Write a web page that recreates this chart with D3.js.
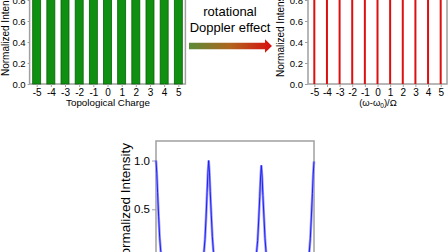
<!DOCTYPE html>
<html>
<head>
<meta charset="utf-8">
<script src="https://cdn.jsdelivr.net/npm/d3@7"></script>
<style>
  body { margin: 0; background: #fff; }
  svg { display: block; font-family: "Liberation Sans", Arial, sans-serif; }
</style>
</head>
<body>
<svg id="chart" width="448" height="252"></svg>
<script>
const charges = [-5, -4, -3, -2, -1, 0, 1, 2, 3, 4, 5];
const chargeIntensity = [1, 1, 1, 1, 1, 1, 1, 1, 1, 1, 1];
const freqShift = [-5, -4, -3, -2, -1, 0, 1, 2, 3, 4, 5];
const freqIntensity = [1, 1, 1, 1, 1, 1, 1, 1, 1, 1, 1];
const topTicks = [0, 0.2, 0.4, 0.6, 0.8, 1.0];

const time = [0, 0.015, 0.03, 0.05, 0.07, 0.09, 0.12, 0.2, 0.35, 0.5, 0.65, 0.8,
  0.88, 0.91, 0.93, 0.95, 0.97, 0.985, 1.0, 1.015, 1.03, 1.05, 1.07, 1.09, 1.12,
  1.2, 1.35, 1.5, 1.65, 1.8, 1.88, 1.91, 1.93, 1.95, 1.97, 1.985, 2.0, 2.015, 2.03,
  2.05, 2.07, 2.09, 2.12, 2.2, 2.35, 2.5, 2.65, 2.8, 2.88, 2.91, 2.93, 2.95, 2.97,
  2.985, 3.0];
const signal = [1.0, 0.87, 0.67, 0.43, 0.21, 0.07, 0.02, 0.01, 0.02, 0.01, 0.015, 0.01,
  0.02, 0.06, 0.19, 0.41, 0.67, 0.87, 1.0, 0.88, 0.68, 0.44, 0.22, 0.07, 0.02,
  0.01, 0.015, 0.01, 0.02, 0.01, 0.02, 0.06, 0.18, 0.39, 0.63, 0.82, 0.95, 0.83, 0.64,
  0.42, 0.2, 0.06, 0.02, 0.01, 0.02, 0.01, 0.015, 0.01, 0.02, 0.06, 0.2, 0.42, 0.66,
  0.86, 0.99];
const bottomTicks = [0, 0.5, 1.0];

const svg = d3.select("#chart");
const axisColor = "#a0a0a0";
const intFmt = (d) => String(d); // plain hyphen, like the original

function styleAxis(g, size) {
  g.select(".domain").remove();
  g.selectAll("line").attr("stroke", axisColor);
  g.selectAll("text").attr("fill", "#000").attr("font-size", size);
}

// top panels share a vertical scale
const yTop = d3.scaleLinear().domain([0, 1.2]).range([84, -42]);

function topFrame(x0, x1, ySize, ySpace) {
  svg.append("rect")
    .attr("x", x0).attr("y", -42)
    .attr("width", x1 - x0).attr("height", 84 + 42)
    .attr("fill", "none").attr("stroke", axisColor).attr("stroke-width", 1.5);
  svg.append("g")
    .attr("transform", `translate(${x0},0)`)
    .call(d3.axisLeft(yTop).tickValues(topTicks).tickFormat(d3.format(".1f")).tickSize(ySize).tickPadding(ySpace))
    .call((g) => styleAxis(g, 9.5));
}

// left: topological charge spectrum
const xLeft = d3.scaleLinear().domain([-5.5, 5.5]).range([29.6, 185.4]);
topFrame(29.6, 185.4, 2, 2);

svg.append("g")
  .selectAll("rect")
  .data(charges)
  .join("rect")
  .attr("x", (d) => xLeft(d) - 4)
  .attr("y", (d, i) => yTop(chargeIntensity[i]))
  .attr("width", 8)
  .attr("height", (d, i) => yTop(0) - yTop(chargeIntensity[i]))
  .attr("fill", "#109010")
  .attr("stroke", "#0a600a")
  .attr("stroke-width", 0.8);

svg.append("g")
  .attr("transform", "translate(0,84)")
  .call(d3.axisBottom(xLeft).tickValues(charges).tickFormat(intFmt).tickSize(3).tickPadding(2))
  .call((g) => styleAxis(g, 10));

svg.append("text")
  .attr("x", 108).attr("y", 106)
  .attr("text-anchor", "middle").attr("font-size", 9.8)
  .text("Topological Charge");

svg.append("text")
  .attr("transform", "translate(8.5,76) rotate(-90)")
  .attr("font-size", 10)
  .text("Normalized Intensity");

// right: frequency spectrum
const xRight = d3.scaleLinear().domain([-5.5, 5.5]).range([308, 447]);
topFrame(308, 447, 3, 2);

svg.append("g")
  .selectAll("line")
  .data(freqShift)
  .join("line")
  .attr("x1", (d) => xRight(d)).attr("x2", (d) => xRight(d))
  .attr("y1", yTop(0))
  .attr("y2", (d, i) => yTop(freqIntensity[i]))
  .attr("stroke", "#dd1010")
  .attr("stroke-width", 2);

svg.append("g")
  .attr("transform", "translate(0,84)")
  .call(d3.axisBottom(xRight).tickValues(freqShift).tickFormat(intFmt).tickSize(3).tickPadding(2))
  .call((g) => styleAxis(g, 10));

const xl = svg.append("text")
  .attr("x", 378).attr("y", 106)
  .attr("text-anchor", "middle").attr("font-size", 9.5);
xl.append("tspan").text("(ω-ω");
xl.append("tspan").attr("font-size", 6.5).attr("dy", 2).text("0");
xl.append("tspan").attr("dy", -2).text(")/Ω");

svg.append("text")
  .attr("transform", "translate(283.5,77) rotate(-90)")
  .attr("font-size", 10)
  .text("Normalized Intensity");

// centre caption and arrow
svg.append("text").attr("x", 230).attr("y", 16)
  .attr("text-anchor", "middle").attr("font-size", 13).text("rotational");
svg.append("text").attr("x", 230).attr("y", 32)
  .attr("text-anchor", "middle").attr("font-size", 13).text("Doppler effect");

const grad = svg.append("defs").append("linearGradient")
  .attr("id", "arrowGrad")
  .attr("gradientUnits", "userSpaceOnUse")
  .attr("x1", 189).attr("x2", 272).attr("y1", 0).attr("y2", 0);
grad.append("stop").attr("offset", 0).attr("stop-color", "#5a8c38");
grad.append("stop").attr("offset", 0.5).attr("stop-color", "#b0641e");
grad.append("stop").attr("offset", 1).attr("stop-color", "#d80f0f");

svg.append("path")
  .attr("d", "M189,42.7 L265,42.7 L265,39.3 L272,46 L265,52.7 L265,49.3 L189,49.3 Z")
  .attr("fill", "url(#arrowGrad)");

// bottom: time-domain signal
const xTime = d3.scaleLinear().domain([0, 3]).range([156, 314]);
const yTime = d3.scaleLinear().domain([-0.04, 1.2]).range([262, 141]);

svg.append("rect")
  .attr("x", 156).attr("y", 141)
  .attr("width", 314 - 156).attr("height", 262 - 141)
  .attr("fill", "none").attr("stroke", axisColor).attr("stroke-width", 1.5);

svg.append("g")
  .attr("transform", "translate(156,0)")
  .call(d3.axisLeft(yTime).tickValues(bottomTicks).tickFormat(d3.format(".1f")).tickSize(4).tickPadding(2))
  .call((g) => styleAxis(g, 11.5));

const pts = time.map((t, i) => [t, signal[i]]);
const line = d3.line()
  .x((d) => xTime(d[0]))
  .y((d) => yTime(d[1]));

svg.append("path").datum(pts)
  .attr("fill", "none").attr("stroke", "#9a9aff").attr("stroke-width", 2.6)
  .attr("d", line);
svg.append("path").datum(pts)
  .attr("fill", "none").attr("stroke", "#2020ee").attr("stroke-width", 1)
  .attr("d", line);

svg.append("text")
  .attr("transform", "translate(129.5,143) rotate(-90)")
  .attr("text-anchor", "end")
  .attr("font-size", 13.5)
  .text("Normalized Intensity");
</script>
</body>
</html>
